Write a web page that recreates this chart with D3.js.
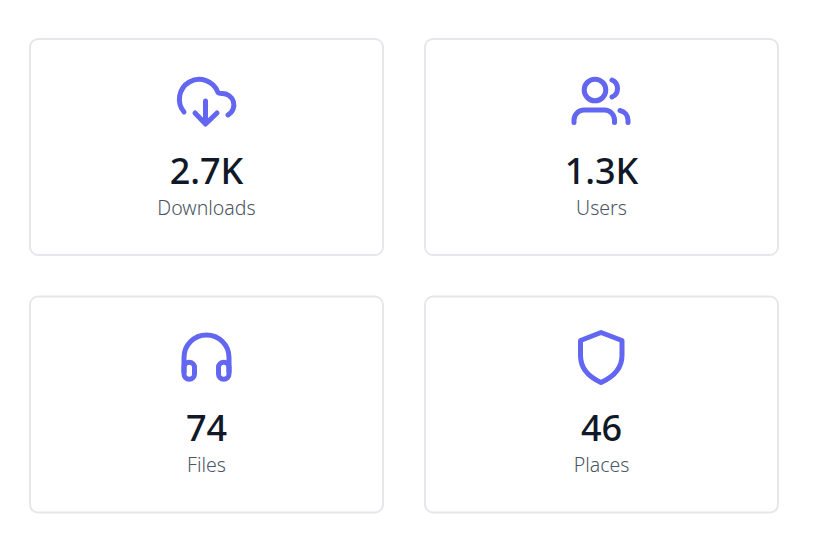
<!DOCTYPE html>
<html>
<head>
<meta charset="utf-8">
<script src="https://cdn.jsdelivr.net/npm/d3@7"></script>
<style>
  html, body { margin: 0; background: #fff; }
  svg { display: block; }
</style>
</head>
<body>
<div id="chart"></div>
<script>
  var values = ['2.7K', '1.3K', '74', '46'];
  var labels = ['Downloads', 'Users', 'Files', 'Places'];
  var icons = ['cloud', 'users', 'headphones', 'shield'];

  // Icon shapes, relative to the card's centre-top.
  var iconPaths = {
    cloud: ['M-22.5 73A19.9 19.9 0 1 1 11.5 53.5Q12.5 54.5 15 54.5A11.5 11.5 0 0 1 21.5 76', 'M-1 62V84', 'M-11.5 74L-1 85L10.5 74'],
    users: ['M-27.5 83.5V81A10 10 0 0 1 -17.5 71H3A10 10 0 0 1 13 81V83.5', 'M-6.5 51m-10.8 0a10.8 10.8 0 1 0 21.6 0a10.8 10.8 0 1 0 -21.6 0', 'M26.5 83.5V81A10 10 0 0 0 18.5 71.5', 'M10.5 41A9.3 9.3 0 0 1 10.5 58'],
    headphones: ['M-22.5 75V61A22.5 22.5 0 0 1 22.5 61V75', 'M-22.5 71A5.25 5.25 0 0 1 -12 71V77.5A5.25 5.25 0 0 1 -22.5 77.5Z', 'M12 71A5.25 5.25 0 0 1 22.5 71V77.5A5.25 5.25 0 0 1 12 77.5Z'],
    shield: ['M-0.5 36L20.5 44V59C20.5 73 10.5 81 -0.5 86C-11.5 81 -21 73 -21 59V44Z']
  };

  var width = 821, height = 542;

  var x = d3.scaleBand().domain([0, 1]).range([30, 778]).paddingInner(42 / 395);
  var y = d3.scaleBand().domain([0, 1]).range([39, 512.5]).paddingInner(41.5 / 257.5);

  var svg = d3.select('#chart').append('svg')
    .attr('width', width)
    .attr('height', height);

  var cards = svg.selectAll('g.card')
    .data(values)
    .enter().append('g')
    .attr('class', 'card')
    .attr('transform', function(d, i) {
      return 'translate(' + x(i % 2) + ',' + y(Math.floor(i / 2)) + ')';
    });

  cards.append('rect')
    .attr('width', x.bandwidth())
    .attr('height', y.bandwidth())
    .attr('rx', 8)
    .attr('fill', '#fff')
    .attr('stroke', '#e5e7eb')
    .attr('stroke-width', 2);

  cards.each(function(d, i) {
    d3.select(this).append('g')
      .attr('transform', 'translate(' + x.bandwidth() / 2 + ',0)')
      .selectAll('path')
      .data(iconPaths[icons[i]])
      .enter().append('path')
      .attr('d', function(p) { return p; })
      .attr('fill', 'none')
      .attr('stroke', '#6366f1')
      .attr('stroke-width', 5)
      .attr('stroke-linecap', 'round')
      .attr('stroke-linejoin', 'round');
  });

  cards.append('text')
    .attr('x', x.bandwidth() / 2)
    .attr('y', 144.5)
    .attr('text-anchor', 'middle')
    .attr('font-family', '"Noto Sans", sans-serif')
    .attr('font-size', 36)
    .attr('font-weight', 500)
    .attr('fill', '#111827')
    .text(function(d) { return d; });

  cards.append('text')
    .attr('x', x.bandwidth() / 2)
    .attr('y', 175.5)
    .attr('text-anchor', 'middle')
    .attr('font-family', '"Noto Sans", sans-serif')
    .attr('font-size', 19.5)
    .attr('font-weight', 300)
    .attr('fill', '#4b5563')
    .text(function(d, i) { return labels[i]; });
</script>
</body>
</html>
